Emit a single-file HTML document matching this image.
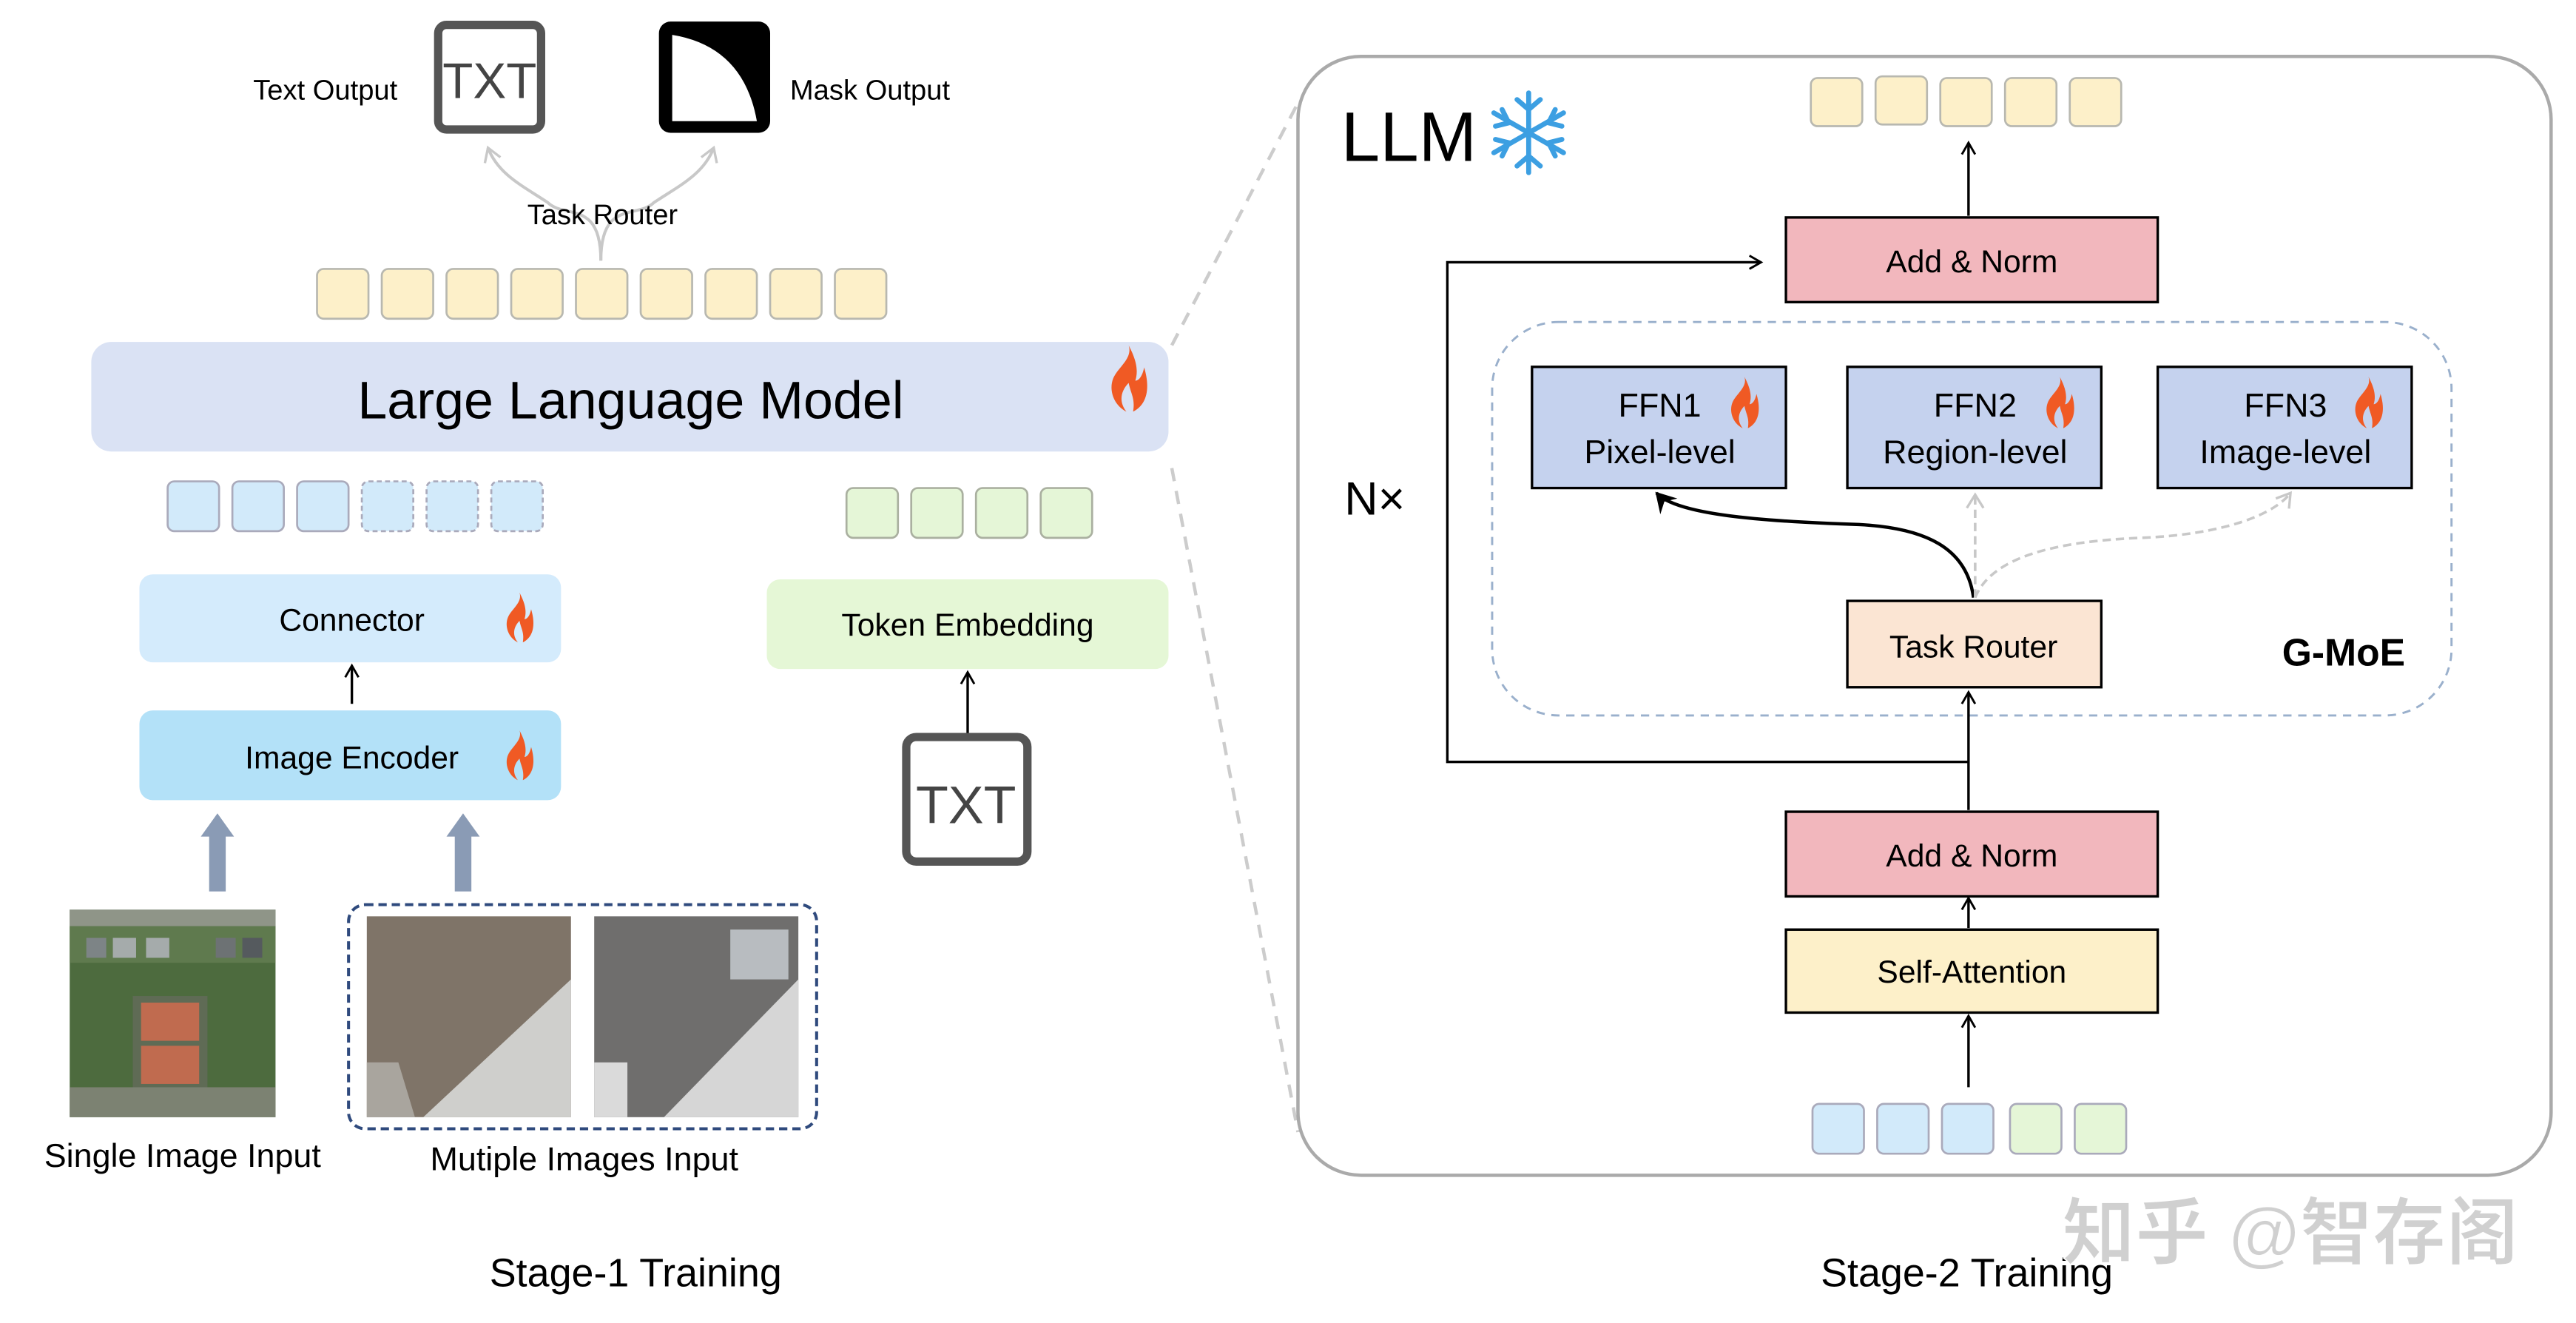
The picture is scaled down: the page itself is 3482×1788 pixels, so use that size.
<!DOCTYPE html>
<html><head><meta charset="utf-8"><style>
html,body{margin:0;padding:0;background:#fff;}
svg{display:block;}
text{font-family:"Liberation Sans","Noto Sans CJK SC",sans-serif;}
</style></head><body>
<svg width="3482" height="1788" viewBox="0 0 1552 797" preserveAspectRatio="none" xmlns="http://www.w3.org/2000/svg">
<defs>
<symbol id="fl" viewBox="0 0 20 30"><path d="M10 0 C12 6 5 10 3 15 C1 20 3 27 9 30 C5 25 7 20 10 17 C11 22 13 24 12 30 C18 27 20 20 17 10 C16 15 14 16 13 16 C15 10 12 4 10 0Z" fill="#f05a24"/></symbol>
<marker id="ab" markerWidth="10" markerHeight="10" refX="8" refY="5" orient="auto" markerUnits="userSpaceOnUse"><path d="M1 1 L8 5 L1 9" fill="none" stroke="#000" stroke-width="1.3"/></marker>
<marker id="ag" markerWidth="12" markerHeight="12" refX="9" refY="6" orient="auto" markerUnits="userSpaceOnUse"><path d="M1 1 L9 6 L1 11" fill="none" stroke="#c8c8c8" stroke-width="1.5"/></marker>
<marker id="ak" markerWidth="14" markerHeight="14" refX="11" refY="7" orient="auto" markerUnits="userSpaceOnUse"><path d="M0 0 L12 7 L0 14 L4 7Z" fill="#000"/></marker>
</defs>
<rect width="1552" height="797" fill="#fff"/>

<!-- top outputs -->
<text x="196" y="60" font-size="17" text-anchor="middle">Text Output</text>
<rect x="264" y="15" width="62" height="63" rx="5" fill="#fff" stroke="#555" stroke-width="5"/>
<text x="295" y="59" font-size="30" text-anchor="middle" fill="#444">TXT</text>
<rect x="397" y="13" width="67" height="67" rx="7" fill="#000"/>
<path d="M405 21 Q448 28 456 73 L405 73Z" fill="#fff"/>
<text x="476" y="60" font-size="17">Mask Output</text>
<path d="M362 157 C362 120 340 132 330 122 C315 112 300 105 294 89" fill="none" stroke="#c8c8c8" stroke-width="1.8" marker-end="url(#ag)"/>
<path d="M362 157 C362 120 384 132 394 122 C409 112 424 105 430 89" fill="none" stroke="#c8c8c8" stroke-width="1.8" marker-end="url(#ag)"/>
<rect x="310" y="118" width="106" height="22" fill="#fff" opacity="0"/>
<text x="363" y="135" font-size="17" text-anchor="middle">Task Router</text>

<!-- yellow tokens -->
<g fill="#fdf0c9" stroke="#b8b8b0" stroke-width="1.2">
<rect x="191" y="162" width="31" height="30" rx="4"/><rect x="230" y="162" width="31" height="30" rx="4"/><rect x="269" y="162" width="31" height="30" rx="4"/><rect x="308" y="162" width="31" height="30" rx="4"/><rect x="347" y="162" width="31" height="30" rx="4"/><rect x="386" y="162" width="31" height="30" rx="4"/><rect x="425" y="162" width="31" height="30" rx="4"/><rect x="464" y="162" width="31" height="30" rx="4"/><rect x="503" y="162" width="31" height="30" rx="4"/>
</g>

<!-- LLM -->
<rect x="55" y="206" width="649" height="66" rx="12" fill="#dae2f4"/>
<text x="380" y="252" font-size="32" text-anchor="middle">Large Language Model</text>
<use href="#fl" x="664" y="208" width="32" height="40"/>

<!-- connectors dashed -->
<line x1="706" y1="208" x2="782" y2="62" stroke="#ccc" stroke-width="2" stroke-dasharray="8,6"/>
<line x1="706" y1="282" x2="782" y2="682" stroke="#ccc" stroke-width="2" stroke-dasharray="8,6"/>

<!-- blue tokens -->
<g fill="#d2eafa" stroke="#aab" stroke-width="1.2">
<rect x="101" y="290" width="31" height="30" rx="4"/><rect x="140" y="290" width="31" height="30" rx="4"/><rect x="179" y="290" width="31" height="30" rx="4"/>
<rect x="218" y="290" width="31" height="30" rx="4" stroke-dasharray="3,2"/><rect x="257" y="290" width="31" height="30" rx="4" stroke-dasharray="3,2"/><rect x="296" y="290" width="31" height="30" rx="4" stroke-dasharray="3,2"/>
</g>
<g fill="#e5f6d7" stroke="#aab0a0" stroke-width="1.2">
<rect x="510" y="294" width="31" height="30" rx="4"/><rect x="549" y="294" width="31" height="30" rx="4"/><rect x="588" y="294" width="31" height="30" rx="4"/><rect x="627" y="294" width="31" height="30" rx="4"/>
</g>

<rect x="84" y="346" width="254" height="53" rx="8" fill="#d4ebfc"/>
<text x="212" y="380" font-size="19" text-anchor="middle">Connector</text>
<use href="#fl" x="301" y="357" width="24" height="30"/>
<line x1="212" y1="424" x2="212" y2="401" stroke="#000" stroke-width="1.5" marker-end="url(#ab)"/>
<rect x="84" y="428" width="254" height="54" rx="8" fill="#b3e1f8"/>
<text x="212" y="463" font-size="19" text-anchor="middle">Image Encoder</text>
<use href="#fl" x="301" y="440" width="24" height="30"/>

<path d="M126 537 V504 H121 L131 490 L141 504 H136 V537Z" fill="#8a9bb5"/>
<path d="M274 537 V504 H269 L279 490 L289 504 H284 V537Z" fill="#8a9bb5"/>

<rect x="462" y="349" width="242" height="54" rx="8" fill="#e5f7d6"/>
<text x="583" y="383" font-size="19" text-anchor="middle">Token Embedding</text>
<line x1="583" y1="443" x2="583" y2="405" stroke="#000" stroke-width="1.5" marker-end="url(#ab)"/>
<rect x="546" y="444" width="73" height="75" rx="6" fill="#fff" stroke="#555" stroke-width="5"/>
<text x="582" y="496" font-size="32" text-anchor="middle" fill="#444">TXT</text>

<!-- images -->
<rect x="42" y="548" width="124" height="125" fill="#4d6b3e"/>
<rect x="42" y="548" width="124" height="10" fill="#8f9588"/>
<rect x="42" y="558" width="124" height="22" fill="#5f7a4e"/>
<rect x="52" y="565" width="12" height="12" fill="#7d8486"/><rect x="68" y="565" width="14" height="12" fill="#a5abab"/><rect x="88" y="565" width="14" height="12" fill="#a5abab"/><rect x="130" y="565" width="12" height="12" fill="#6d7274"/><rect x="146" y="565" width="12" height="12" fill="#555a5e"/>
<rect x="80" y="600" width="45" height="60" fill="#5f6b55"/>
<rect x="85" y="604" width="35" height="23" fill="#c06b4f"/><rect x="85" y="630" width="35" height="23" fill="#c06b4f"/>
<rect x="42" y="655" width="124" height="18" fill="#7c8272"/>
<rect x="210" y="545" width="282" height="135" rx="10" fill="none" stroke="#2f4a7d" stroke-width="1.8" stroke-dasharray="5,3"/>
<rect x="221" y="552" width="123" height="121" fill="#7f7468"/>
<path d="M344 590 L344 673 L255 673Z" fill="#cfcfcc"/>
<path d="M221 640 L240 640 L250 673 L221 673Z" fill="#a9a59e"/>
<rect x="358" y="552" width="123" height="121" fill="#6f6e6d"/>
<path d="M481 590 L481 673 L400 673Z" fill="#d6d6d6"/>
<rect x="440" y="560" width="35" height="30" fill="#b8bcc0"/>
<rect x="358" y="640" width="20" height="33" fill="#dadada"/>
<text x="110" y="703" font-size="20" text-anchor="middle">Single Image Input</text>
<text x="352" y="705" font-size="20" text-anchor="middle">Mutiple Images Input</text>
<text x="383" y="775" font-size="24" text-anchor="middle">Stage-1 Training</text>

<!-- right panel -->
<rect x="782" y="34" width="755" height="674" rx="38" fill="none" stroke="#aaa" stroke-width="2"/>
<text x="808" y="97" font-size="42">LLM</text>
<g stroke="#3c9fe2" stroke-width="3" stroke-linecap="round" fill="none">
<line x1="921" y1="56" x2="921" y2="104"/><line x1="900" y1="68" x2="942" y2="92"/><line x1="900" y1="92" x2="942" y2="68"/>
<path d="M914 60 L921 66 L928 60 M914 100 L921 94 L928 100 M901 76 L909 74 L905 66 M941 76 L933 74 L937 66 M901 84 L909 86 L905 94 M941 84 L933 86 L937 94"/>
</g>
<g fill="#fdf0c9" stroke="#b8b8b0" stroke-width="1.2">
<rect x="1091" y="47" width="31" height="29" rx="4"/><rect x="1130" y="46" width="31" height="29" rx="4"/><rect x="1169" y="47" width="31" height="29" rx="4"/><rect x="1208" y="47" width="31" height="29" rx="4"/><rect x="1247" y="47" width="31" height="29" rx="4"/>
</g>
<line x1="1186" y1="130" x2="1186" y2="86" stroke="#000" stroke-width="1.5" marker-end="url(#ab)"/>
<rect x="1076" y="131" width="224" height="51" fill="#f2b7bd" stroke="#000" stroke-width="1.5"/>
<text x="1188" y="164" font-size="19" text-anchor="middle">Add &amp; Norm</text>
<polyline points="1186,459 872,459 872,158 1061,158" fill="none" stroke="#000" stroke-width="1.5" marker-end="url(#ab)"/>
<text x="810" y="310" font-size="28">N×</text>

<rect x="899" y="194" width="578" height="237" rx="40" fill="none" stroke="#9ab0cc" stroke-width="1.3" stroke-dasharray="5,4"/>
<g fill="#c5d2ee" stroke="#000" stroke-width="1.5">
<rect x="923" y="221" width="153" height="73"/><rect x="1113" y="221" width="153" height="73"/><rect x="1300" y="221" width="153" height="73"/>
</g>
<g font-size="20" text-anchor="middle">
<text x="1000" y="251">FFN1</text><text x="1000" y="279">Pixel-level</text>
<text x="1190" y="251">FFN2</text><text x="1190" y="279">Region-level</text>
<text x="1377" y="251">FFN3</text><text x="1377" y="279">Image-level</text>
</g>
<use href="#fl" x="1038" y="227" width="26" height="31"/>
<use href="#fl" x="1228" y="227" width="26" height="31"/>
<use href="#fl" x="1414" y="227" width="26" height="31"/>
<path d="M1189 360 C1185 330 1160 318 1120 316 C1060 314 1010 310 998 297" fill="none" stroke="#000" stroke-width="2" marker-end="url(#ak)"/>
<line x1="1190" y1="360" x2="1190" y2="298" stroke="#c8c8c8" stroke-width="1.6" stroke-dasharray="5,3" marker-end="url(#ag)"/>
<path d="M1190 360 C1200 335 1240 326 1290 324 C1340 322 1370 310 1380 297" fill="none" stroke="#c8c8c8" stroke-width="1.6" stroke-dasharray="5,3" marker-end="url(#ag)"/>
<rect x="1113" y="362" width="153" height="52" fill="#fbe5d3" stroke="#000" stroke-width="1.5"/>
<text x="1189" y="396" font-size="19" text-anchor="middle">Task Router</text>
<text x="1412" y="401" font-size="23" font-weight="bold" text-anchor="middle">G-MoE</text>

<line x1="1186" y1="488" x2="1186" y2="417" stroke="#000" stroke-width="1.5" marker-end="url(#ab)"/>
<rect x="1076" y="489" width="224" height="51" fill="#f2b7bd" stroke="#000" stroke-width="1.5"/>
<text x="1188" y="522" font-size="19" text-anchor="middle">Add &amp; Norm</text>
<line x1="1186" y1="559" x2="1186" y2="541" stroke="#000" stroke-width="1.5" marker-end="url(#ab)"/>
<rect x="1076" y="560" width="224" height="50" fill="#fdf0c9" stroke="#000" stroke-width="1.5"/>
<text x="1188" y="592" font-size="19" text-anchor="middle">Self-Attention</text>
<line x1="1186" y1="655" x2="1186" y2="612" stroke="#000" stroke-width="1.5" marker-end="url(#ab)"/>
<g stroke="#aab" stroke-width="1.2">
<rect x="1092" y="665" width="31" height="30" rx="4" fill="#d2eafa"/><rect x="1131" y="665" width="31" height="30" rx="4" fill="#d2eafa"/><rect x="1170" y="665" width="31" height="30" rx="4" fill="#d2eafa"/>
<rect x="1211" y="665" width="31" height="30" rx="4" fill="#e5f6d7"/><rect x="1250" y="665" width="31" height="30" rx="4" fill="#e5f6d7"/>
</g>
<text x="1185" y="775" font-size="24" text-anchor="middle">Stage-2 Training</text>
<text x="1380" y="758" font-size="44" text-anchor="middle" fill="#d0d0d0" stroke="#fff" stroke-width="0.8" font-weight="bold">知乎 @智存阁</text>
</svg>
</body></html>
